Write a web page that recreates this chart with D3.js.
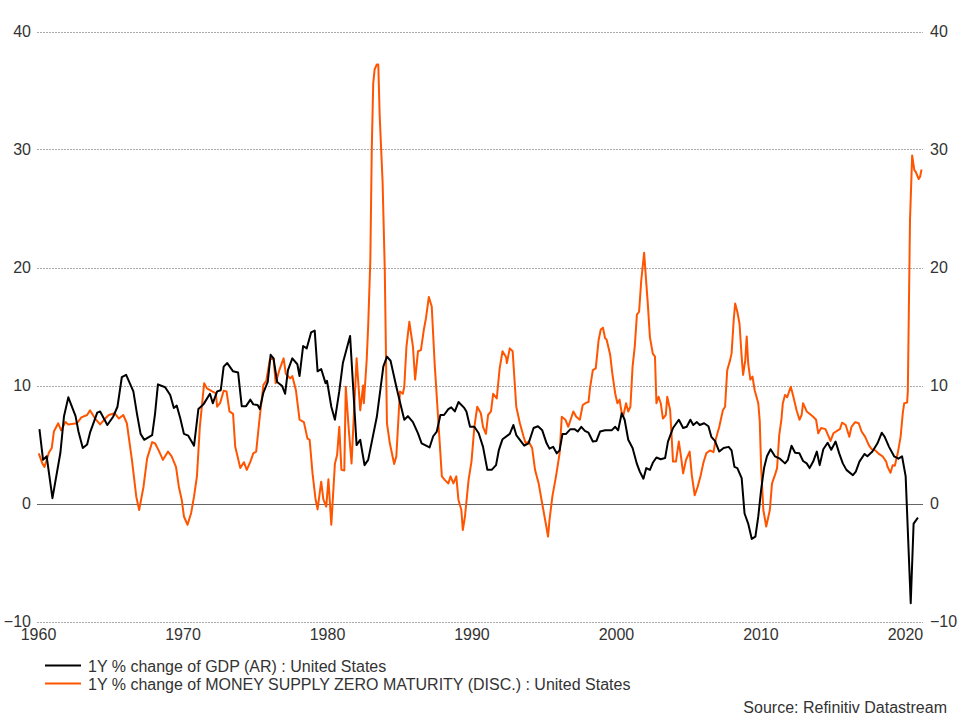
<!DOCTYPE html>
<html>
<head>
<meta charset="utf-8">
<script src="https://cdn.jsdelivr.net/npm/d3@7"></script>
<style>
  html, body { margin: 0; padding: 0; background: #fff; }
  svg { display: block; font-family: "Liberation Sans", Arial, sans-serif; }
  .tick text { fill: #333; font-size: 16px; }
</style>
</head>
<body>
<svg id="chart" width="960" height="720"></svg>
<script>
// ---- Data ----
const yTicks = [-10, 0, 10, 20, 30, 40];
const xTicks = [1960, 1970, 1980, 1990, 2000, 2010, 2020];

const seriesNames = [
  "1Y % change of GDP (AR) : United States",
  "1Y % change of MONEY SUPPLY ZERO MATURITY (DISC.) : United States"
];
const sourceText = "Source: Refinitiv Datastream";

const gdpDates = [
  1960.1,1960.35,1960.6,1961.0,1961.55,1961.8,1962.1,1962.6,1962.8,1963.1,1963.4,1963.6,1964.1,1964.3,1964.8,
  1965.2,1965.5,1965.8,1966.1,1966.6,1966.85,1967.1,1967.35,1967.9,1968.1,1968.3,1968.8,1969.15,1969.4,1969.6,
  1969.85,1970.1,1970.4,1970.8,1971.1,1971.45,1971.9,1972.1,1972.4,1972.65,1972.85,1973.1,1973.5,1973.85,1974.1,
  1974.4,1974.7,1974.9,1975.2,1975.35,1975.6,1975.9,1976.1,1976.3,1976.55,1976.9,1977.1,1977.3,1977.6,1977.95,
  1978.1,1978.35,1978.6,1978.9,1979.15,1979.35,1979.6,1979.9,1980.0,1980.3,1980.55,1980.85,1981.1,1981.6,1982.05,
  1982.3,1982.6,1982.85,1983.45,1983.9,1984.15,1984.4,1984.8,1985.05,1985.35,1985.6,1985.95,1986.3,1986.55,1987.1,
  1987.35,1987.6,1987.85,1988.1,1988.4,1988.6,1988.85,1989.1,1989.5,1989.65,1989.9,1990.2,1990.5,1990.8,1991.1,
  1991.4,1991.7,1991.9,1992.15,1992.65,1992.9,1993.1,1993.35,1993.65,1993.95,1994.3,1994.6,1994.9,1995.2,1995.4,
  1995.65,1995.9,1996.1,1996.3,1996.55,1996.85,1997.15,1997.35,1997.6,1997.85,1998.1,1998.4,1998.65,1998.9,1999.25,
  1999.7,1999.95,2000.15,2000.4,2000.6,2000.85,2001.15,2001.45,2001.65,2001.9,2002.1,2002.35,2002.55,2002.8,2003.1,
  2003.4,2003.6,2003.95,2004.35,2004.65,2004.9,2005.15,2005.35,2005.6,2005.8,2006.1,2006.4,2006.6,2006.85,2007.15,
  2007.45,2007.8,2008.0,2008.2,2008.4,2008.7,2008.9,2009.15,2009.4,2009.65,2009.85,2010.05,2010.25,2010.45,2010.7,
  2011.0,2011.35,2011.7,2011.9,2012.15,2012.4,2012.7,2012.95,2013.2,2013.4,2013.65,2013.9,2014.1,2014.35,2014.65,
  2014.9,2015.2,2015.45,2015.7,2015.95,2016.4,2016.6,2016.85,2017.2,2017.4,2017.75,2018.1,2018.4,2018.6,2018.9,
  2019.25,2019.55,2019.8,2020.05,2020.4,2020.6,2020.9
];
const gdpValues = [
  6.3,3.7,4.0,0.45,4.3,7.4,9.0,7.4,6.1,4.7,5.0,6.0,7.7,7.8,6.65,
  7.35,8.2,10.7,10.9,9.5,7.6,5.9,5.4,5.8,7.6,10.1,9.85,9.2,8.1,8.3,
  7.2,5.9,5.75,4.9,8.0,8.4,9.3,8.5,9.5,9.6,11.6,11.9,11.2,11.1,8.25,
  8.25,8.8,8.4,8.35,8.0,9.4,10.3,12.6,12.3,10.3,9.95,9.3,11.3,12.3,11.8,
  10.8,13.35,13.15,14.5,14.65,11.2,11.4,10.2,10.4,8.2,7.1,9.5,11.9,14.2,4.95,
  5.4,3.25,3.7,7.35,11.6,12.45,12.1,9.9,8.6,7.1,7.4,6.9,5.95,5.1,4.75,
  5.7,6.1,7.5,7.5,8.0,8.15,7.8,8.6,8.1,7.8,6.5,6.5,5.95,4.8,2.85,
  2.85,3.25,4.55,5.45,5.9,6.65,5.8,5.4,4.9,5.1,6.4,6.55,6.2,5.1,4.65,
  4.8,4.25,4.5,5.9,5.9,6.3,6.3,6.1,6.5,6.15,6.0,5.25,5.3,6.1,6.2,
  6.2,6.5,6.2,7.65,7.1,5.4,4.7,3.35,2.7,2.1,3.0,2.85,3.45,3.9,3.75,
  3.85,5.25,6.4,7.1,6.4,6.5,7.1,6.65,6.9,6.65,6.8,6.55,5.65,5.3,4.4,
  4.7,4.8,4.5,3.1,3.0,2.15,-0.85,-1.7,-3.0,-2.8,-1.1,1.2,3.0,4.0,4.6,
  4.0,3.8,3.4,3.7,4.9,4.3,4.25,3.6,3.4,3.0,3.55,4.4,3.25,4.6,5.15,
  4.55,5.25,4.25,3.4,2.85,2.4,2.7,3.55,4.2,4.0,4.4,5.1,6.0,5.65,4.8,
  4.0,3.8,4.0,2.3,-8.45,-1.7,-1.2
];

const m2Dates = [
  1960.05,1960.3,1960.45,1960.75,1960.95,1961.1,1961.4,1961.6,1961.9,1962.1,1962.7,1963.0,1963.4,1963.6,1963.95,
  1964.3,1964.65,1964.9,1965.3,1965.6,1965.9,1966.15,1966.5,1966.8,1967.0,1967.3,1967.55,1967.9,1968.1,1968.35,
  1968.65,1969.0,1969.25,1969.55,1969.75,1969.95,1970.1,1970.35,1970.6,1970.8,1971.0,1971.2,1971.5,1971.7,1972.05,
  1972.3,1972.4,1972.6,1972.85,1973.05,1973.25,1973.5,1973.65,1973.85,1974.0,1974.25,1974.45,1974.7,1974.9,1975.1,
  1975.3,1975.6,1975.8,1976.05,1976.3,1976.45,1976.7,1977.0,1977.15,1977.45,1977.6,1977.85,1978.1,1978.4,1978.65,
  1978.8,1979.0,1979.2,1979.35,1979.6,1979.75,1979.95,1980.1,1980.3,1980.55,1980.7,1980.85,1981.0,1981.2,1981.3,
  1981.5,1981.7,1982.05,1982.3,1982.5,1982.55,1982.75,1982.85,1983.0,1983.1,1983.2,1983.3,1983.45,1983.55,1983.65,
  1983.85,1984.0,1984.15,1984.35,1984.65,1984.8,1985.05,1985.25,1985.35,1985.5,1985.7,1985.95,1986.1,1986.3,1986.5,
  1986.7,1986.85,1987.05,1987.25,1987.45,1987.7,1987.95,1988.15,1988.4,1988.55,1988.75,1988.95,1989.1,1989.3,1989.4,
  1989.55,1989.8,1990.0,1990.2,1990.4,1990.65,1990.8,1991.0,1991.15,1991.35,1991.5,1991.75,1991.95,1992.15,1992.4,
  1992.45,1992.65,1992.85,1993.1,1993.35,1993.6,1993.75,1993.95,1994.2,1994.4,1994.65,1994.85,1995.1,1995.3,1995.4,
  1995.6,1995.85,1996.1,1996.25,1996.5,1996.7,1997.05,1997.25,1997.5,1997.7,1997.95,1998.1,1998.2,1998.4,1998.6,
  1998.8,1998.95,1999.1,1999.25,1999.35,1999.6,1999.75,1999.95,2000.1,2000.25,2000.4,2000.5,2000.7,2000.85,2001.0,
  2001.15,2001.3,2001.45,2001.6,2001.75,2001.95,2002.1,2002.2,2002.35,2002.55,2002.7,2002.8,2002.95,2003.1,2003.25,
  2003.45,2003.55,2003.75,2003.95,2004.15,2004.35,2004.5,2004.65,2004.85,2005.1,2005.25,2005.45,2005.65,2005.85,2006.05,
  2006.25,2006.5,2006.75,2006.9,2007.15,2007.4,2007.55,2007.7,2007.9,2008.0,2008.15,2008.25,2008.4,2008.55,2008.7,
  2008.8,2008.95,2009.05,2009.15,2009.3,2009.45,2009.6,2009.85,2009.95,2010.05,2010.2,2010.4,2010.65,2010.8,2011.0,
  2011.15,2011.3,2011.45,2011.55,2011.7,2011.85,2012.1,2012.25,2012.5,2012.7,2012.85,2012.95,2013.2,2013.4,2013.65,
  2013.85,2014.0,2014.2,2014.5,2014.85,2015.05,2015.35,2015.5,2015.65,2015.9,2016.15,2016.3,2016.55,2016.8,2017.0,
  2017.25,2017.5,2017.7,2017.95,2018.2,2018.45,2018.7,2018.8,2019.0,2019.15,2019.3,2019.5,2019.7,2019.85,2019.95,
  2020.15,2020.2,2020.35,2020.5,2020.65,2020.75,2020.95,2021.05,2021.15
];
const m2Values = [
  4.25,3.4,3.1,4.3,4.7,6.1,6.8,6.2,6.9,6.7,6.8,7.3,7.5,7.9,7.2,
  6.7,7.2,7.5,7.65,7.2,7.5,6.8,3.7,0.6,-0.55,1.4,3.8,5.2,5.1,4.5,
  3.7,4.4,4.0,3.1,1.4,0.3,-1.1,-1.8,-0.8,0.6,2.3,6.5,10.2,9.75,9.5,
  9.35,8.2,8.5,9.55,9.5,7.8,7.6,4.8,3.8,3.0,3.5,2.85,3.55,4.25,4.4,
  6.8,10.05,10.4,12.2,12.3,10.2,11.3,12.3,11.0,10.6,10.8,9.6,7.1,6.9,5.5,
  5.4,2.55,0.45,-0.5,1.85,0.35,-0.27,2.05,-1.8,3.4,4.1,6.5,2.85,2.8,9.9,
  6.4,3.4,12.3,7.9,10.0,8.5,12.2,15.0,20.6,30.0,35.6,36.8,37.2,37.2,32.8,
  27.2,19.8,6.8,5.1,3.35,4.0,9.5,9.3,9.9,13.3,15.4,13.3,10.5,12.9,13.0,
  14.7,15.7,17.5,16.7,11.9,7.1,2.3,2.0,1.7,2.3,1.7,2.3,0.3,-0.55,-2.25,
  -1.1,2.0,3.55,6.5,8.2,7.65,6.5,5.9,7.5,7.8,9.3,8.9,11.45,12.9,12.4,
  11.9,13.15,12.9,8.2,6.8,5.7,5.1,5.25,4.7,2.85,1.7,0.3,-1.4,-2.8,-1.4,
  0.6,2.3,4.25,7.35,7.1,6.5,7.8,7.35,7.1,8.35,8.55,8.6,9.75,11.3,11.45,
  13.85,14.75,14.9,14.0,13.9,12.6,11.0,9.3,8.5,8.8,7.65,7.4,8.5,7.8,8.2,
  11.6,13.3,16.0,16.25,18.9,21.25,18.65,17.0,14.1,12.7,12.45,8.5,9.05,8.5,7.2,
  7.5,9.05,7.9,3.55,3.55,5.25,4.0,2.55,3.7,4.4,2.4,0.7,1.4,2.3,3.45,
  4.25,4.5,4.35,5.4,6.5,7.9,8.2,11.3,12.15,12.7,15.55,16.95,16.25,15.25,12.45,
  10.9,12.15,14.15,11.9,10.5,10.75,9.6,8.5,7.0,3.0,-0.55,-1.95,-0.55,1.7,2.4,
  3.0,5.8,7.1,8.5,9.2,9.0,9.9,9.2,7.9,7.1,7.5,8.5,7.8,7.6,7.35,
  7.1,5.95,6.4,6.3,5.3,5.95,6.2,6.3,6.85,6.65,5.65,6.5,6.9,6.8,6.1,
  5.65,4.95,4.6,4.5,4.2,4.0,3.55,3.1,2.6,3.25,3.2,4.25,5.65,7.65,8.5,
  8.55,9.5,24.0,29.5,28.25,28.1,27.5,27.7,28.3
];

// ---- Layout ----
const svg = d3.select("#chart");
const plotLeft = 37, plotRight = 923, plotTop = 31.5, plotBottom = 621.5;

const x = d3.scaleLinear().domain([1960, 2021.25]).range([38, plotRight]);
const y = d3.scaleLinear().domain([-10, 40]).range([plotBottom, plotTop]);

// grid lines
svg.append("g").selectAll("line")
  .data(yTicks)
  .join("line")
  .attr("x1", plotLeft).attr("x2", plotRight)
  .attr("y1", d => Math.round(y(d)) + 0.5).attr("y2", d => Math.round(y(d)) + 0.5)
  .attr("stroke", d => d === 0 ? "#666" : "#aaa")
  .attr("stroke-width", 1)
  .attr("stroke-dasharray", d => d === 0 ? null : "2,1");

// axes
const fmt = d3.format("d");
const gl = svg.append("g").attr("transform", `translate(${plotLeft},0)`)
  .call(d3.axisLeft(y).tickValues(yTicks).tickFormat(fmt).tickSize(0).tickPadding(6));
const gr = svg.append("g").attr("transform", `translate(${plotRight},0)`)
  .call(d3.axisRight(y).tickValues(yTicks).tickFormat(fmt).tickSize(0).tickPadding(7));
const gb = svg.append("g").attr("transform", `translate(0,${plotBottom})`)
  .call(d3.axisBottom(x).tickValues(xTicks).tickFormat(fmt).tickSize(0).tickPadding(7));
[gl, gr, gb].forEach(g => {
  g.select(".domain").remove();
  g.attr("font-family", null).attr("font-size", null);
});

// lines
const line = d3.line().x(d => x(d[0])).y(d => y(d[1]));
const m2Data = m2Dates.map((d, i) => [d, m2Values[i]]);
const gdpData = gdpDates.map((d, i) => [d, gdpValues[i]]);
const colors = ["#000000", "#ff5500"];

svg.append("path").datum(m2Data)
  .attr("fill", "none").attr("stroke", colors[1]).attr("stroke-width", 2)
  .attr("stroke-linejoin", "round").attr("d", line);
svg.append("path").datum(gdpData)
  .attr("fill", "none").attr("stroke", colors[0]).attr("stroke-width", 2)
  .attr("stroke-linejoin", "round").attr("d", line);

// legend
const lg = svg.append("g").selectAll("g").data(seriesNames).join("g")
  .attr("transform", (d, i) => `translate(45,${665.5 + i * 18})`);
lg.append("line").attr("x1", 0).attr("x2", 36).attr("y1", 0).attr("y2", 0)
  .attr("stroke", (d, i) => colors[i]).attr("stroke-width", 2);
lg.append("text").attr("x", 43).attr("y", 6).text(d => d)
  .attr("font-size", 16).attr("fill", "#333");

// source
svg.append("text").attr("x", 947).attr("y", 713).attr("text-anchor", "end")
  .attr("font-size", 16).attr("fill", "#333").text(sourceText);
</script>
</body>
</html>
